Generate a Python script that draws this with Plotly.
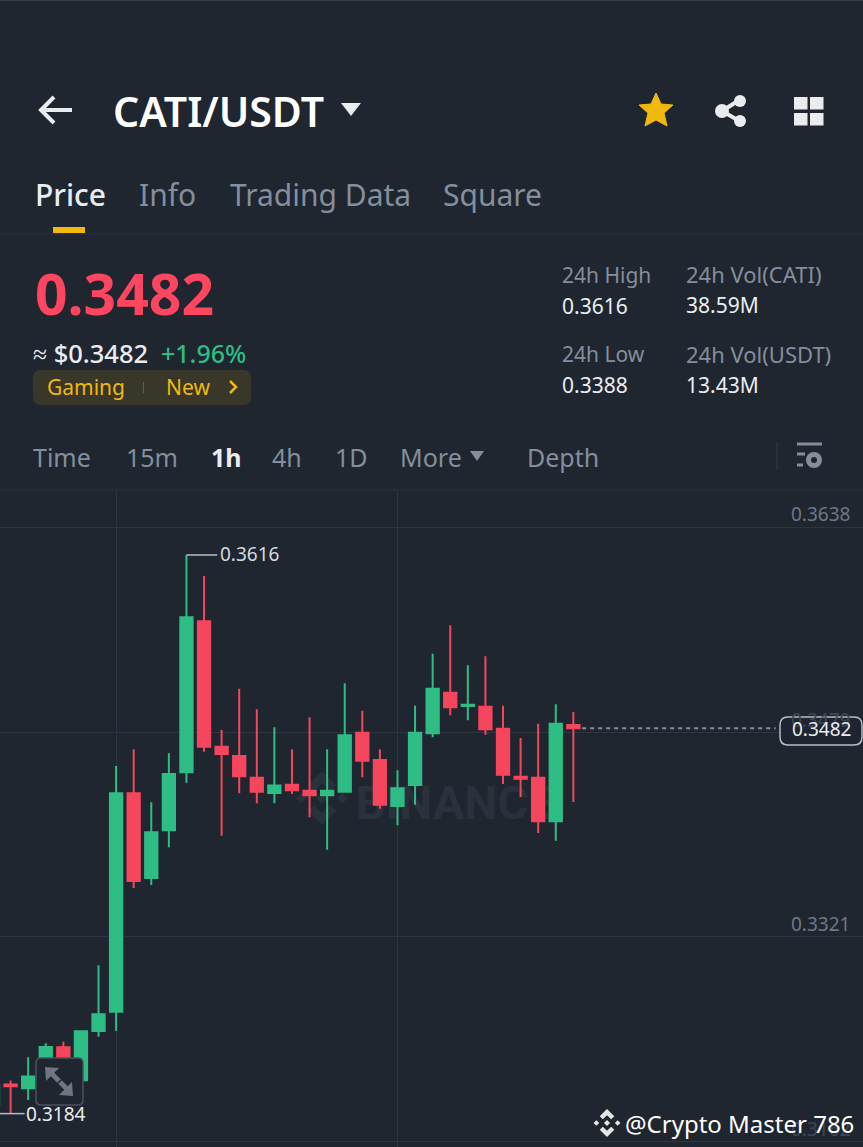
import plotly.graph_objects as go

# hourly candles
opens = [0.31897, 0.32055, 0.32027, 0.32130, 0.32345, 0.32089, 0.32471, 0.32621, 0.34315, 0.33658, 0.34028, 0.34477,
         0.35649, 0.34676, 0.34604, 0.34436, 0.34317, 0.34381, 0.34335, 0.34299, 0.34327, 0.34785, 0.34573, 0.34216,
         0.34379, 0.34780, 0.35095, 0.34992, 0.34986, 0.34816, 0.34443, 0.34436, 0.34097, 0.34844]
highs = [0.32060, 0.32086, 0.32267, 0.32376, 0.32388, 0.32469, 0.32981, 0.34526, 0.34656, 0.34245, 0.34625, 0.36163,
         0.36000, 0.34806, 0.35126, 0.34966, 0.34826, 0.34656, 0.34904, 0.34656, 0.35168, 0.34955, 0.34656, 0.34493,
         0.34994, 0.35397, 0.35618, 0.35307, 0.35377, 0.34994, 0.34743, 0.34854, 0.35005, 0.34945]
lows = [0.31897, 0.31830, 0.31936, 0.32052, 0.32184, 0.32089, 0.32427, 0.32471, 0.33580, 0.33603, 0.33896, 0.34397,
        0.34637, 0.33986, 0.34315, 0.34237, 0.34237, 0.34309, 0.34128, 0.33877, 0.34327, 0.34439, 0.34195, 0.34066,
        0.34226, 0.34749, 0.34920, 0.34881, 0.34769, 0.34387, 0.34286, 0.34007, 0.33947, 0.34247]
closes = [0.32058, 0.32042, 0.32117, 0.32347, 0.32231, 0.32469, 0.32601, 0.34315, 0.33634, 0.34012, 0.34464, 0.35680,
          0.34676, 0.34619, 0.34446, 0.34327, 0.34374, 0.34338, 0.34299, 0.34335, 0.34764, 0.34567, 0.34226, 0.34353,
          0.34785, 0.35126, 0.34982, 0.35002, 0.34811, 0.34459, 0.34428, 0.34097, 0.34854, 0.34819]
candle_index = list(range(len(opens)))

# gridline levels as they sit on the chart, labels as printed
price_ticks = [0.3638, 0.34785, 0.3320, 0.31612]
price_labels = ['0.3638', '0.3479', '0.3321', '0.3162']
time_grid = [7, 23]

last_price = 0.34819
high_price = 0.36163
low_price = 0.31830

W = 863
H = 1147
BG = '#1f2630'
GREEN = '#2ebd85'
RED = '#f6465d'
GRAY = '#848e9c'
WHITE = '#eaecef'
YELLOW = '#f0b90b'
GRID = '#2e3540'
FONT = 'Noto Sans'


def px(x):
    return x / W


def py(y):
    return 1 - y / H


def poly(points, close=True):
    s = ''
    for i, p in enumerate(points):
        s += ('M' if i == 0 else 'L') + f'{px(p[0])},{py(p[1])}'
    return s + ('Z' if close else '')


def rrect(x0, y0, x1, y1, r):
    s = f'M{px(x0 + r)},{py(y0)}L{px(x1 - r)},{py(y0)}Q{px(x1)},{py(y0)} {px(x1)},{py(y0 + r)}'
    s += f'L{px(x1)},{py(y1 - r)}Q{px(x1)},{py(y1)} {px(x1 - r)},{py(y1)}'
    s += f'L{px(x0 + r)},{py(y1)}Q{px(x0)},{py(y1)} {px(x0)},{py(y1 - r)}'
    s += f'L{px(x0)},{py(y0 + r)}Q{px(x0)},{py(y0)} {px(x0 + r)},{py(y0)}Z'
    return s


shapes = []


def add_path(path, fill=None, line=None, width=0, layer='above'):
    shapes.append(dict(type='path', xref='paper', yref='paper', path=path, layer=layer,
                       fillcolor=fill if fill else 'rgba(0,0,0,0)',
                       line=dict(color=line if line else 'rgba(0,0,0,0)', width=width)))


def add_circle(cx, cy, r, fill):
    shapes.append(dict(type='circle', xref='paper', yref='paper', x0=px(cx - r), x1=px(cx + r),
                       y0=py(cy + r), y1=py(cy - r), fillcolor=fill, line=dict(width=0)))


def logo(cx, cy, r, color, layer='above'):
    # exchange mark: two chevrons, two side squares, one centre square
    chevron = [(0, -1), (0.52, -0.48), (0.3, -0.26), (0, -0.56), (-0.3, -0.26), (-0.52, -0.48)]
    add_path(poly([(cx + a * r, cy + b * r) for a, b in chevron]), fill=color, layer=layer)
    add_path(poly([(cx + a * r, cy - b * r) for a, b in chevron]), fill=color, layer=layer)
    for dx, k in [(-0.76, 0.2), (0.76, 0.2), (0, 0.22)]:
        c = cx + dx * r
        add_path(poly([(c, cy - k * r), (c + k * r, cy), (c, cy + k * r), (c - k * r, cy)]), fill=color, layer=layer)


annotations = []


def label(x, y, text, size, color, anchor='left', weight=400):
    annotations.append(dict(xref='paper', yref='paper', x=px(x - 1.5), y=py(y - 1), text=text, showarrow=False,
                            xanchor=anchor, yanchor='middle', borderpad=0,
                            font=dict(family=FONT, size=size, color=color, weight=weight)))


add_path(poly([(0, 0.5), (W, 0.5)], False), line='#343b47', width=1)

# header
add_path(poly([(42, 110), (72, 110)], False), line=WHITE, width=4)
add_path(poly([(54, 97), (41, 110), (54, 123)], False), line=WHITE, width=4)
label(113, 112, 'CATI/USDT', 41, '#ffffff', weight=600)
add_path(poly([(341, 103), (361, 103), (351, 116)]), fill=WHITE)

# star icon
add_path(poly([(656, 93), (661, 104), (673, 105), (664, 113), (667, 126), (656, 120), (645, 126), (648, 113),
               (639, 105), (651, 104)]), fill=YELLOW, line=YELLOW, width=1)

# share icon
add_path(poly([(741, 99), (722, 111), (741, 122)], False), line=WHITE, width=4)
add_circle(722, 111, 7, WHITE)
add_circle(740, 101, 6, WHITE)
add_circle(740, 121, 6, WHITE)

# grid icon
for gx, gy in [(794, 97), (810, 97), (794, 113), (810, 113)]:
    add_path(poly([(gx, gy), (gx + 13.5, gy), (gx + 13.5, gy + 12.5), (gx, gy + 12.5)]), fill=WHITE)

# tabs
label(35, 195, 'Price', 30, WHITE, weight=500)
label(139, 195, 'Info', 30, GRAY)
label(230, 195, 'Trading Data', 30, GRAY)
label(443, 195, 'Square', 30, GRAY)
add_path(poly([(53, 227), (85, 227), (85, 233), (53, 233)]), fill=YELLOW)
add_path(poly([(0, 234), (W, 234)], False), line=GRID, width=1)

# price block
label(35, 294, '0.3482', 57, '#ff4560', weight=700)
label(33, 354, '≈ $0.3482', 25.5, WHITE, weight=500)
label(161, 354, '+1.96%', 25, GREEN, weight=500)
add_path(rrect(33, 370, 251, 405, 8), fill='#39362a')
label(47, 388, 'Gaming', 21, YELLOW)
add_path(poly([(143.5, 382), (143.5, 393)], False), line='#6b5f2a', width=1)
label(166, 388, 'New', 21, YELLOW)
add_path(poly([(230, 381), (236, 387), (230, 393)], False), line=YELLOW, width=2.5)

# 24h stats
label(562, 276, '24h High', 21, GRAY)
label(562, 307, '0.3616', 21, WHITE)
label(686, 275, '24h Vol(CATI)', 22, GRAY)
label(686, 306, '38.59M', 21, WHITE)
label(562, 355, '24h Low', 21, GRAY)
label(562, 386, '0.3388', 21, WHITE)
label(686, 355, '24h Vol(USDT)', 22, GRAY)
label(686, 386, '13.43M', 21, WHITE)

# interval row
label(33, 458, 'Time', 25, GRAY)
label(126, 458, '15m', 25, GRAY)
label(211, 458, '1h', 25, WHITE, weight=700)
label(272, 458, '4h', 25, GRAY)
label(335, 458, '1D', 25, GRAY)
label(400, 458, 'More', 25, GRAY)
add_path(poly([(470, 451), (484, 451), (477, 461)]), fill=GRAY)
label(527, 458, 'Depth', 25, GRAY)
add_path(poly([(777, 442), (777, 470)], False), line=GRID, width=1.5)
add_path(poly([(797, 444), (822, 444)], False), line=GRAY, width=3)
add_path(poly([(797, 454), (805, 454)], False), line=GRAY, width=3)
add_path(poly([(797, 465), (803, 465)], False), line=GRAY, width=3)
add_circle(814, 460, 8, GRAY)
add_circle(814, 460, 3, BG)
add_path(poly([(0, 490), (W, 490)], False), line=GRID, width=1)

# watermark under the candles
logo(322, 798, 27, '#2a313c', layer='below')
shapes.append(dict(type='rect', xref='paper', yref='paper', x0=px(350), x1=px(560), y0=py(825), y1=py(773),
                   layer='below', line=dict(width=0), fillcolor='rgba(0,0,0,0)',
                   label=dict(text='BINANCE', font=dict(family='Roboto', size=47, color='#2a313c', weight=700),
                              textposition='middle center')))

fig = go.Figure()
fig.add_trace(go.Candlestick(x=candle_index, open=opens, high=highs, low=lows, close=closes,
                             increasing=dict(line=dict(color=GREEN, width=2), fillcolor=GREEN),
                             decreasing=dict(line=dict(color=RED, width=2), fillcolor=RED),
                             whiskerwidth=0, showlegend=False))

# high, low and last price leader lines
fig.add_trace(go.Scatter(x=[11, 12.75], y=[high_price, high_price], mode='lines',
                         line=dict(color='#b7bdc6', width=1.5), showlegend=False))
fig.add_trace(go.Scatter(x=[0.4, 1.8], y=[low_price, low_price], mode='lines',
                         line=dict(color='#b7bdc6', width=1.5), showlegend=False))
fig.add_trace(go.Scatter(x=[33.5, 44.5], y=[last_price, last_price], mode='lines',
                         line=dict(color='#8a919d', width=2, dash='4px,4px'), showlegend=False))

for val, txt in zip(price_ticks, price_labels):
    faint = txt in ('0.3479', '0.3162')
    annotations.append(dict(xref='paper', yref='y', x=px(852), y=val, yshift=13, text=txt, showarrow=False,
                            xanchor='right', yanchor='middle',
                            font=dict(family=FONT, size=19, color='#3f4652' if faint else '#6f7785')))

annotations.append(dict(xref='x', yref='y', x=12.8, y=high_price, yshift=1, text='0.3616', showarrow=False,
                        xanchor='left', yanchor='middle', font=dict(family=FONT, size=19, color='#d5d8dd')))
annotations.append(dict(xref='x', yref='y', x=1.75, y=low_price, text='0.3184', showarrow=False, xanchor='left',
                        yanchor='middle', font=dict(family=FONT, size=19, color=WHITE)))

# last price box
add_path(rrect(780, 717, 862, 745, 8), fill='rgba(31,38,48,0.85)', line='#b7bdc6', width=1.5)
label(853, 730, '0.3482', 19, WHITE, anchor='right')

# expand button
add_path(rrect(36, 1058, 83, 1105, 5), fill='#1f2630', line='#4a515e', width=1.5)
add_path(poly([(50, 1072), (59, 1081)], False), line='#6f7683', width=5)
add_path(poly([(60, 1082), (69, 1091)], False), line='#6f7683', width=5)
add_path(poly([(45, 1067), (59, 1068), (46, 1081)]), fill='#6f7683')
add_path(poly([(73, 1096), (59, 1095), (72, 1082)]), fill='#6f7683')

# footer credit
logo(607, 1123, 14, '#e6e6e6')
label(625, 1124, '@Crypto Master 786', 24, '#ffffff')

fig.update_layout(width=W, height=H, margin=dict(l=0, r=0, t=0, b=0), autosize=False,
                  paper_bgcolor=BG, plot_bgcolor=BG, boxgap=0, showlegend=False,
                  shapes=shapes, annotations=annotations, hovermode=False,
                  xaxis=dict(range=[0.398, 49.47], rangeslider=dict(visible=False), tickvals=time_grid,
                             showticklabels=False, showgrid=True, gridcolor=GRID, gridwidth=1, zeroline=False,
                             ticks='', showline=False),
                  yaxis=dict(range=[0.31571, 0.36667], domain=[0, 657 / H], tickvals=price_ticks,
                             showticklabels=False, showgrid=True, gridcolor=GRID, gridwidth=1, zeroline=False,
                             ticks='', showline=False))

fig.write_html("out.html", config=dict(displayModeBar=False),
               post_script="document.body.style.margin='0';document.body.style.background='#1f2630';")
